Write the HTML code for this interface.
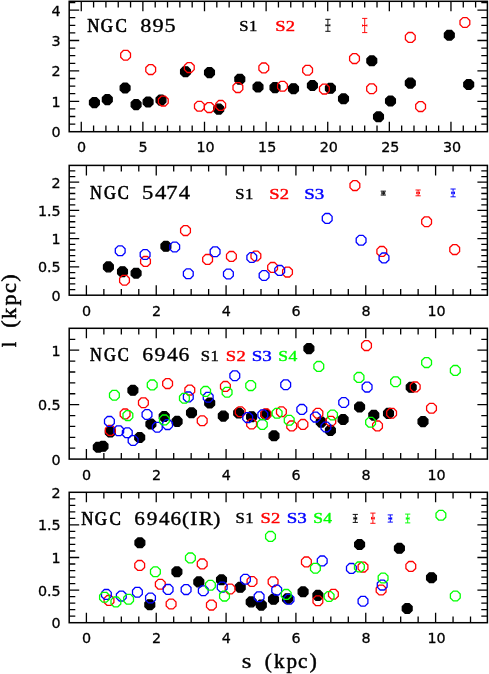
<!DOCTYPE html>
<html><head><meta charset="utf-8"><title>l vs s</title>
<style>
html,body{margin:0;padding:0;background:#fff}
svg{display:block}
.tl text{font-family:"DejaVu Sans","Liberation Sans",sans-serif;font-size:14.3px;fill:#000;stroke:#000;stroke-width:0.3px}
.ser{font-family:"Liberation Serif","Times New Roman",serif}
</style></head><body>
<svg width="489" height="674" viewBox="0 0 489 674">
<rect width="489" height="674" fill="#fff"/>
<path d="M93.59 131.70V125.60M93.59 1.30V7.40M105.92 131.70V125.60M105.92 1.30V7.40M118.24 131.70V125.60M118.24 1.30V7.40M130.56 131.70V125.60M130.56 1.30V7.40M155.21 131.70V125.60M155.21 1.30V7.40M167.53 131.70V125.60M167.53 1.30V7.40M179.85 131.70V125.60M179.85 1.30V7.40M192.18 131.70V125.60M192.18 1.30V7.40M216.82 131.70V125.60M216.82 1.30V7.40M229.15 131.70V125.60M229.15 1.30V7.40M241.47 131.70V125.60M241.47 1.30V7.40M253.79 131.70V125.60M253.79 1.30V7.40M278.44 131.70V125.60M278.44 1.30V7.40M290.76 131.70V125.60M290.76 1.30V7.40M303.08 131.70V125.60M303.08 1.30V7.40M315.41 131.70V125.60M315.41 1.30V7.40M340.05 131.70V125.60M340.05 1.30V7.40M352.38 131.70V125.60M352.38 1.30V7.40M364.70 131.70V125.60M364.70 1.30V7.40M377.02 131.70V125.60M377.02 1.30V7.40M401.67 131.70V125.60M401.67 1.30V7.40M413.99 131.70V125.60M413.99 1.30V7.40M426.31 131.70V125.60M426.31 1.30V7.40M438.64 131.70V125.60M438.64 1.30V7.40M463.28 131.70V125.60M463.28 1.30V7.40M475.61 131.70V125.60M475.61 1.30V7.40M69.20 124.10H75.30M487.40 124.10H481.30M69.20 116.50H75.30M487.40 116.50H481.30M69.20 108.90H75.30M487.40 108.90H481.30M69.20 93.70H75.30M487.40 93.70H481.30M69.20 86.10H75.30M487.40 86.10H481.30M69.20 78.50H75.30M487.40 78.50H481.30M69.20 63.30H75.30M487.40 63.30H481.30M69.20 55.70H75.30M487.40 55.70H481.30M69.20 48.10H75.30M487.40 48.10H481.30M69.20 32.90H75.30M487.40 32.90H481.30M69.20 25.30H75.30M487.40 25.30H481.30M69.20 17.70H75.30M487.40 17.70H481.30M69.20 2.50H75.30M487.40 2.50H481.30" stroke="#000" stroke-width="1.3" fill="none"/>
<path d="M81.27 131.70V121.70M81.27 1.30V11.30M142.88 131.70V121.70M142.88 1.30V11.30M204.50 131.70V121.70M204.50 1.30V11.30M266.12 131.70V121.70M266.12 1.30V11.30M327.73 131.70V121.70M327.73 1.30V11.30M389.34 131.70V121.70M389.34 1.30V11.30M450.96 131.70V121.70M450.96 1.30V11.30M69.20 101.30H79.20M487.40 101.30H477.40M69.20 70.90H79.20M487.40 70.90H477.40M69.20 40.50H79.20M487.40 40.50H477.40M69.20 10.10H79.20M487.40 10.10H477.40" stroke="#000" stroke-width="1.3" fill="none"/>
<rect x="69.2" y="1.3" width="418.20" height="130.40" fill="none" stroke="#000" stroke-width="1.5"/>
<g class="tl">
<text transform="translate(81.47,152.40) scale(1,1.03)" text-anchor="middle">0</text>
<text transform="translate(143.08,152.40) scale(1,1.03)" text-anchor="middle">5</text>
<text transform="translate(205.50,152.40) scale(1,1.03)" text-anchor="middle">10</text>
<text transform="translate(267.12,152.40) scale(1,1.03)" text-anchor="middle">15</text>
<text transform="translate(328.73,152.40) scale(1,1.03)" text-anchor="middle">20</text>
<text transform="translate(390.34,152.40) scale(1,1.03)" text-anchor="middle">25</text>
<text transform="translate(451.96,152.40) scale(1,1.03)" text-anchor="middle">30</text>
<text transform="translate(60.7,137.10) scale(1,1.03)" text-anchor="end">0</text>
<text transform="translate(60.7,106.70) scale(1,1.03)" text-anchor="end">1</text>
<text transform="translate(60.7,76.30) scale(1,1.03)" text-anchor="end">2</text>
<text transform="translate(60.7,45.90) scale(1,1.03)" text-anchor="end">3</text>
<text transform="translate(60.7,15.50) scale(1,1.03)" text-anchor="end">4</text>
</g>
<path d="M103.86 295.20V289.10M103.86 165.40V171.50M121.32 295.20V289.10M121.32 165.40V171.50M138.78 295.20V289.10M138.78 165.40V171.50M173.70 295.20V289.10M173.70 165.40V171.50M191.16 295.20V289.10M191.16 165.40V171.50M208.62 295.20V289.10M208.62 165.40V171.50M243.54 295.20V289.10M243.54 165.40V171.50M261.00 295.20V289.10M261.00 165.40V171.50M278.46 295.20V289.10M278.46 165.40V171.50M313.38 295.20V289.10M313.38 165.40V171.50M330.84 295.20V289.10M330.84 165.40V171.50M348.30 295.20V289.10M348.30 165.40V171.50M383.22 295.20V289.10M383.22 165.40V171.50M400.68 295.20V289.10M400.68 165.40V171.50M418.14 295.20V289.10M418.14 165.40V171.50M453.06 295.20V289.10M453.06 165.40V171.50M470.52 295.20V289.10M470.52 165.40V171.50M69.20 289.55H75.30M487.40 289.55H481.30M69.20 283.90H75.30M487.40 283.90H481.30M69.20 278.25H75.30M487.40 278.25H481.30M69.20 272.60H75.30M487.40 272.60H481.30M69.20 261.30H75.30M487.40 261.30H481.30M69.20 255.65H75.30M487.40 255.65H481.30M69.20 250.00H75.30M487.40 250.00H481.30M69.20 244.35H75.30M487.40 244.35H481.30M69.20 233.05H75.30M487.40 233.05H481.30M69.20 227.40H75.30M487.40 227.40H481.30M69.20 221.75H75.30M487.40 221.75H481.30M69.20 216.10H75.30M487.40 216.10H481.30M69.20 204.80H75.30M487.40 204.80H481.30M69.20 199.15H75.30M487.40 199.15H481.30M69.20 193.50H75.30M487.40 193.50H481.30M69.20 187.85H75.30M487.40 187.85H481.30M69.20 176.55H75.30M487.40 176.55H481.30M69.20 170.90H75.30M487.40 170.90H481.30" stroke="#000" stroke-width="1.3" fill="none"/>
<path d="M86.40 295.20V285.20M86.40 165.40V175.40M156.24 295.20V285.20M156.24 165.40V175.40M226.08 295.20V285.20M226.08 165.40V175.40M295.92 295.20V285.20M295.92 165.40V175.40M365.76 295.20V285.20M365.76 165.40V175.40M435.60 295.20V285.20M435.60 165.40V175.40M69.20 266.95H79.20M487.40 266.95H477.40M69.20 238.70H79.20M487.40 238.70H477.40M69.20 210.45H79.20M487.40 210.45H477.40M69.20 182.20H79.20M487.40 182.20H477.40" stroke="#000" stroke-width="1.3" fill="none"/>
<rect x="69.2" y="165.4" width="418.20" height="129.80" fill="none" stroke="#000" stroke-width="1.5"/>
<g class="tl">
<text transform="translate(86.60,315.90) scale(1,1.03)" text-anchor="middle">0</text>
<text transform="translate(156.44,315.90) scale(1,1.03)" text-anchor="middle">2</text>
<text transform="translate(226.28,315.90) scale(1,1.03)" text-anchor="middle">4</text>
<text transform="translate(296.12,315.90) scale(1,1.03)" text-anchor="middle">6</text>
<text transform="translate(365.96,315.90) scale(1,1.03)" text-anchor="middle">8</text>
<text transform="translate(436.60,315.90) scale(1,1.03)" text-anchor="middle">10</text>
<text transform="translate(60.7,300.60) scale(1,1.03)" text-anchor="end">0</text>
<text transform="translate(60.7,272.35) scale(1,1.03)" text-anchor="end">0.5</text>
<text transform="translate(60.7,244.10) scale(1,1.03)" text-anchor="end">1</text>
<text transform="translate(60.7,215.85) scale(1,1.03)" text-anchor="end">1.5</text>
<text transform="translate(60.7,187.60) scale(1,1.03)" text-anchor="end">2</text>
</g>
<path d="M103.86 459.10V453.00M103.86 328.30V334.40M121.32 459.10V453.00M121.32 328.30V334.40M138.78 459.10V453.00M138.78 328.30V334.40M173.70 459.10V453.00M173.70 328.30V334.40M191.16 459.10V453.00M191.16 328.30V334.40M208.62 459.10V453.00M208.62 328.30V334.40M243.54 459.10V453.00M243.54 328.30V334.40M261.00 459.10V453.00M261.00 328.30V334.40M278.46 459.10V453.00M278.46 328.30V334.40M313.38 459.10V453.00M313.38 328.30V334.40M330.84 459.10V453.00M330.84 328.30V334.40M348.30 459.10V453.00M348.30 328.30V334.40M383.22 459.10V453.00M383.22 328.30V334.40M400.68 459.10V453.00M400.68 328.30V334.40M418.14 459.10V453.00M418.14 328.30V334.40M453.06 459.10V453.00M453.06 328.30V334.40M470.52 459.10V453.00M470.52 328.30V334.40M69.20 448.21H75.30M487.40 448.21H481.30M69.20 437.32H75.30M487.40 437.32H481.30M69.20 426.43H75.30M487.40 426.43H481.30M69.20 415.54H75.30M487.40 415.54H481.30M69.20 393.76H75.30M487.40 393.76H481.30M69.20 382.87H75.30M487.40 382.87H481.30M69.20 371.98H75.30M487.40 371.98H481.30M69.20 361.09H75.30M487.40 361.09H481.30M69.20 339.31H75.30M487.40 339.31H481.30" stroke="#000" stroke-width="1.3" fill="none"/>
<path d="M86.40 459.10V449.10M86.40 328.30V338.30M156.24 459.10V449.10M156.24 328.30V338.30M226.08 459.10V449.10M226.08 328.30V338.30M295.92 459.10V449.10M295.92 328.30V338.30M365.76 459.10V449.10M365.76 328.30V338.30M435.60 459.10V449.10M435.60 328.30V338.30M69.20 404.65H79.20M487.40 404.65H477.40M69.20 350.20H79.20M487.40 350.20H477.40" stroke="#000" stroke-width="1.3" fill="none"/>
<rect x="69.2" y="328.3" width="418.20" height="130.80" fill="none" stroke="#000" stroke-width="1.5"/>
<g class="tl">
<text transform="translate(86.60,479.80) scale(1,1.03)" text-anchor="middle">0</text>
<text transform="translate(156.44,479.80) scale(1,1.03)" text-anchor="middle">2</text>
<text transform="translate(226.28,479.80) scale(1,1.03)" text-anchor="middle">4</text>
<text transform="translate(296.12,479.80) scale(1,1.03)" text-anchor="middle">6</text>
<text transform="translate(365.96,479.80) scale(1,1.03)" text-anchor="middle">8</text>
<text transform="translate(436.60,479.80) scale(1,1.03)" text-anchor="middle">10</text>
<text transform="translate(60.7,464.50) scale(1,1.03)" text-anchor="end">0</text>
<text transform="translate(60.7,410.05) scale(1,1.03)" text-anchor="end">0.5</text>
<text transform="translate(60.7,355.60) scale(1,1.03)" text-anchor="end">1</text>
</g>
<path d="M103.86 622.70V616.60M103.86 492.30V498.40M121.32 622.70V616.60M121.32 492.30V498.40M138.78 622.70V616.60M138.78 492.30V498.40M173.70 622.70V616.60M173.70 492.30V498.40M191.16 622.70V616.60M191.16 492.30V498.40M208.62 622.70V616.60M208.62 492.30V498.40M243.54 622.70V616.60M243.54 492.30V498.40M261.00 622.70V616.60M261.00 492.30V498.40M278.46 622.70V616.60M278.46 492.30V498.40M313.38 622.70V616.60M313.38 492.30V498.40M330.84 622.70V616.60M330.84 492.30V498.40M348.30 622.70V616.60M348.30 492.30V498.40M383.22 622.70V616.60M383.22 492.30V498.40M400.68 622.70V616.60M400.68 492.30V498.40M418.14 622.70V616.60M418.14 492.30V498.40M453.06 622.70V616.60M453.06 492.30V498.40M470.52 622.70V616.60M470.52 492.30V498.40M69.20 616.18H75.30M487.40 616.18H481.30M69.20 609.66H75.30M487.40 609.66H481.30M69.20 603.14H75.30M487.40 603.14H481.30M69.20 596.62H75.30M487.40 596.62H481.30M69.20 583.58H75.30M487.40 583.58H481.30M69.20 577.06H75.30M487.40 577.06H481.30M69.20 570.54H75.30M487.40 570.54H481.30M69.20 564.02H75.30M487.40 564.02H481.30M69.20 550.98H75.30M487.40 550.98H481.30M69.20 544.46H75.30M487.40 544.46H481.30M69.20 537.94H75.30M487.40 537.94H481.30M69.20 531.42H75.30M487.40 531.42H481.30M69.20 518.38H75.30M487.40 518.38H481.30M69.20 511.86H75.30M487.40 511.86H481.30M69.20 505.34H75.30M487.40 505.34H481.30M69.20 498.82H75.30M487.40 498.82H481.30" stroke="#000" stroke-width="1.3" fill="none"/>
<path d="M86.40 622.70V612.70M86.40 492.30V502.30M156.24 622.70V612.70M156.24 492.30V502.30M226.08 622.70V612.70M226.08 492.30V502.30M295.92 622.70V612.70M295.92 492.30V502.30M365.76 622.70V612.70M365.76 492.30V502.30M435.60 622.70V612.70M435.60 492.30V502.30M69.20 590.10H79.20M487.40 590.10H477.40M69.20 557.50H79.20M487.40 557.50H477.40M69.20 524.90H79.20M487.40 524.90H477.40" stroke="#000" stroke-width="1.3" fill="none"/>
<rect x="69.2" y="492.3" width="418.20" height="130.40" fill="none" stroke="#000" stroke-width="1.5"/>
<g class="tl">
<text transform="translate(86.60,643.40) scale(1,1.03)" text-anchor="middle">0</text>
<text transform="translate(156.44,643.40) scale(1,1.03)" text-anchor="middle">2</text>
<text transform="translate(226.28,643.40) scale(1,1.03)" text-anchor="middle">4</text>
<text transform="translate(296.12,643.40) scale(1,1.03)" text-anchor="middle">6</text>
<text transform="translate(365.96,643.40) scale(1,1.03)" text-anchor="middle">8</text>
<text transform="translate(436.60,643.40) scale(1,1.03)" text-anchor="middle">10</text>
<text transform="translate(60.7,628.10) scale(1,1.03)" text-anchor="end">0</text>
<text transform="translate(60.7,595.50) scale(1,1.03)" text-anchor="end">0.5</text>
<text transform="translate(60.7,562.90) scale(1,1.03)" text-anchor="end">1</text>
<text transform="translate(60.7,530.30) scale(1,1.03)" text-anchor="end">1.5</text>
<text transform="translate(60.7,497.70) scale(1,1.03)" text-anchor="end">2</text>
</g>
<polygon points="99.30,104.63 96.43,107.50 92.37,107.50 89.50,104.63 89.50,100.57 92.37,97.70 96.43,97.70 99.30,100.57" fill="#000" stroke="#000" stroke-width="1.3" stroke-linejoin="round"/>
<polygon points="112.20,101.63 109.33,104.50 105.27,104.50 102.40,101.63 102.40,97.57 105.27,94.70 109.33,94.70 112.20,97.57" fill="#000" stroke="#000" stroke-width="1.3" stroke-linejoin="round"/>
<polygon points="130.00,90.03 127.13,92.90 123.07,92.90 120.20,90.03 120.20,85.97 123.07,83.10 127.13,83.10 130.00,85.97" fill="#000" stroke="#000" stroke-width="1.3" stroke-linejoin="round"/>
<polygon points="141.00,106.63 138.13,109.50 134.07,109.50 131.20,106.63 131.20,102.57 134.07,99.70 138.13,99.70 141.00,102.57" fill="#000" stroke="#000" stroke-width="1.3" stroke-linejoin="round"/>
<polygon points="153.00,104.03 150.13,106.90 146.07,106.90 143.20,104.03 143.20,99.97 146.07,97.10 150.13,97.10 153.00,99.97" fill="#000" stroke="#000" stroke-width="1.3" stroke-linejoin="round"/>
<polygon points="165.90,102.13 163.03,105.00 158.97,105.00 156.10,102.13 156.10,98.07 158.97,95.20 163.03,95.20 165.90,98.07" fill="#000" stroke="#000" stroke-width="1.3" stroke-linejoin="round"/>
<polygon points="190.40,73.73 187.53,76.60 183.47,76.60 180.60,73.73 180.60,69.67 183.47,66.80 187.53,66.80 190.40,69.67" fill="#000" stroke="#000" stroke-width="1.3" stroke-linejoin="round"/>
<polygon points="214.40,74.63 211.53,77.50 207.47,77.50 204.60,74.63 204.60,70.57 207.47,67.70 211.53,67.70 214.40,70.57" fill="#000" stroke="#000" stroke-width="1.3" stroke-linejoin="round"/>
<polygon points="223.60,111.13 220.73,114.00 216.67,114.00 213.80,111.13 213.80,107.07 216.67,104.20 220.73,104.20 223.60,107.07" fill="#000" stroke="#000" stroke-width="1.3" stroke-linejoin="round"/>
<polygon points="244.70,81.23 241.83,84.10 237.77,84.10 234.90,81.23 234.90,77.17 237.77,74.30 241.83,74.30 244.70,77.17" fill="#000" stroke="#000" stroke-width="1.3" stroke-linejoin="round"/>
<polygon points="262.90,89.03 260.03,91.90 255.97,91.90 253.10,89.03 253.10,84.97 255.97,82.10 260.03,82.10 262.90,84.97" fill="#000" stroke="#000" stroke-width="1.3" stroke-linejoin="round"/>
<polygon points="279.90,89.63 277.03,92.50 272.97,92.50 270.10,89.63 270.10,85.57 272.97,82.70 277.03,82.70 279.90,85.57" fill="#000" stroke="#000" stroke-width="1.3" stroke-linejoin="round"/>
<polygon points="298.40,90.73 295.53,93.60 291.47,93.60 288.60,90.73 288.60,86.67 291.47,83.80 295.53,83.80 298.40,86.67" fill="#000" stroke="#000" stroke-width="1.3" stroke-linejoin="round"/>
<polygon points="317.30,87.53 314.43,90.40 310.37,90.40 307.50,87.53 307.50,83.47 310.37,80.60 314.43,80.60 317.30,83.47" fill="#000" stroke="#000" stroke-width="1.3" stroke-linejoin="round"/>
<polygon points="335.30,90.33 332.43,93.20 328.37,93.20 325.50,90.33 325.50,86.27 328.37,83.40 332.43,83.40 335.30,86.27" fill="#000" stroke="#000" stroke-width="1.3" stroke-linejoin="round"/>
<polygon points="348.40,100.83 345.53,103.70 341.47,103.70 338.60,100.83 338.60,96.77 341.47,93.90 345.53,93.90 348.40,96.77" fill="#000" stroke="#000" stroke-width="1.3" stroke-linejoin="round"/>
<polygon points="376.70,62.83 373.83,65.70 369.77,65.70 366.90,62.83 366.90,58.77 369.77,55.90 373.83,55.90 376.70,58.77" fill="#000" stroke="#000" stroke-width="1.3" stroke-linejoin="round"/>
<polygon points="383.40,118.83 380.53,121.70 376.47,121.70 373.60,118.83 373.60,114.77 376.47,111.90 380.53,111.90 383.40,114.77" fill="#000" stroke="#000" stroke-width="1.3" stroke-linejoin="round"/>
<polygon points="395.40,103.03 392.53,105.90 388.47,105.90 385.60,103.03 385.60,98.97 388.47,96.10 392.53,96.10 395.40,98.97" fill="#000" stroke="#000" stroke-width="1.3" stroke-linejoin="round"/>
<polygon points="415.20,85.13 412.33,88.00 408.27,88.00 405.40,85.13 405.40,81.07 408.27,78.20 412.33,78.20 415.20,81.07" fill="#000" stroke="#000" stroke-width="1.3" stroke-linejoin="round"/>
<polygon points="454.20,37.23 451.33,40.10 447.27,40.10 444.40,37.23 444.40,33.17 447.27,30.30 451.33,30.30 454.20,33.17" fill="#000" stroke="#000" stroke-width="1.3" stroke-linejoin="round"/>
<polygon points="473.60,86.53 470.73,89.40 466.67,89.40 463.80,86.53 463.80,82.47 466.67,79.60 470.73,79.60 473.60,82.47" fill="#000" stroke="#000" stroke-width="1.3" stroke-linejoin="round"/>
<polygon points="130.50,57.23 127.63,60.10 123.57,60.10 120.70,57.23 120.70,53.17 123.57,50.30 127.63,50.30 130.50,53.17" fill="none" stroke="#f00" stroke-width="1.3" stroke-linejoin="round"/>
<polygon points="155.60,71.63 152.73,74.50 148.67,74.50 145.80,71.63 145.80,67.57 148.67,64.70 152.73,64.70 155.60,67.57" fill="none" stroke="#f00" stroke-width="1.3" stroke-linejoin="round"/>
<polygon points="168.20,103.13 165.33,106.00 161.27,106.00 158.40,103.13 158.40,99.07 161.27,96.20 165.33,96.20 168.20,99.07" fill="none" stroke="#f00" stroke-width="1.3" stroke-linejoin="round"/>
<polygon points="194.20,69.63 191.33,72.50 187.27,72.50 184.40,69.63 184.40,65.57 187.27,62.70 191.33,62.70 194.20,65.57" fill="none" stroke="#f00" stroke-width="1.3" stroke-linejoin="round"/>
<polygon points="204.30,108.33 201.43,111.20 197.37,111.20 194.50,108.33 194.50,104.27 197.37,101.40 201.43,101.40 204.30,104.27" fill="none" stroke="#f00" stroke-width="1.3" stroke-linejoin="round"/>
<polygon points="214.20,109.63 211.33,112.50 207.27,112.50 204.40,109.63 204.40,105.57 207.27,102.70 211.33,102.70 214.20,105.57" fill="none" stroke="#f00" stroke-width="1.3" stroke-linejoin="round"/>
<polygon points="225.60,107.43 222.73,110.30 218.67,110.30 215.80,107.43 215.80,103.37 218.67,100.50 222.73,100.50 225.60,103.37" fill="none" stroke="#f00" stroke-width="1.3" stroke-linejoin="round"/>
<polygon points="242.80,89.63 239.93,92.50 235.87,92.50 233.00,89.63 233.00,85.57 235.87,82.70 239.93,82.70 242.80,85.57" fill="none" stroke="#f00" stroke-width="1.3" stroke-linejoin="round"/>
<polygon points="268.70,69.93 265.83,72.80 261.77,72.80 258.90,69.93 258.90,65.87 261.77,63.00 265.83,63.00 268.70,65.87" fill="none" stroke="#f00" stroke-width="1.3" stroke-linejoin="round"/>
<polygon points="287.40,88.33 284.53,91.20 280.47,91.20 277.60,88.33 277.60,84.27 280.47,81.40 284.53,81.40 287.40,84.27" fill="none" stroke="#f00" stroke-width="1.3" stroke-linejoin="round"/>
<polygon points="312.50,72.23 309.63,75.10 305.57,75.10 302.70,72.23 302.70,68.17 305.57,65.30 309.63,65.30 312.50,68.17" fill="none" stroke="#f00" stroke-width="1.3" stroke-linejoin="round"/>
<polygon points="329.30,91.13 326.43,94.00 322.37,94.00 319.50,91.13 319.50,87.07 322.37,84.20 326.43,84.20 329.30,87.07" fill="none" stroke="#f00" stroke-width="1.3" stroke-linejoin="round"/>
<polygon points="359.40,60.63 356.53,63.50 352.47,63.50 349.60,60.63 349.60,56.57 352.47,53.70 356.53,53.70 359.40,56.57" fill="none" stroke="#f00" stroke-width="1.3" stroke-linejoin="round"/>
<polygon points="376.50,90.73 373.63,93.60 369.57,93.60 366.70,90.73 366.70,86.67 369.57,83.80 373.63,83.80 376.50,86.67" fill="none" stroke="#f00" stroke-width="1.3" stroke-linejoin="round"/>
<polygon points="415.20,39.43 412.33,42.30 408.27,42.30 405.40,39.43 405.40,35.37 408.27,32.50 412.33,32.50 415.20,35.37" fill="none" stroke="#f00" stroke-width="1.3" stroke-linejoin="round"/>
<polygon points="425.50,108.63 422.63,111.50 418.57,111.50 415.70,108.63 415.70,104.57 418.57,101.70 422.63,101.70 425.50,104.57" fill="none" stroke="#f00" stroke-width="1.3" stroke-linejoin="round"/>
<polygon points="469.80,24.53 466.93,27.40 462.87,27.40 460.00,24.53 460.00,20.47 462.87,17.60 466.93,17.60 469.80,20.47" fill="none" stroke="#f00" stroke-width="1.3" stroke-linejoin="round"/>
<polygon points="113.30,268.93 110.43,271.80 106.37,271.80 103.50,268.93 103.50,264.87 106.37,262.00 110.43,262.00 113.30,264.87" fill="#000" stroke="#000" stroke-width="1.3" stroke-linejoin="round"/>
<polygon points="127.40,273.73 124.53,276.60 120.47,276.60 117.60,273.73 117.60,269.67 120.47,266.80 124.53,266.80 127.40,269.67" fill="#000" stroke="#000" stroke-width="1.3" stroke-linejoin="round"/>
<polygon points="141.00,275.23 138.13,278.10 134.07,278.10 131.20,275.23 131.20,271.17 134.07,268.30 138.13,268.30 141.00,271.17" fill="#000" stroke="#000" stroke-width="1.3" stroke-linejoin="round"/>
<polygon points="170.80,248.33 167.93,251.20 163.87,251.20 161.00,248.33 161.00,244.27 163.87,241.40 167.93,241.40 170.80,244.27" fill="#000" stroke="#000" stroke-width="1.3" stroke-linejoin="round"/>
<polygon points="129.40,282.23 126.53,285.10 122.47,285.10 119.60,282.23 119.60,278.17 122.47,275.30 126.53,275.30 129.40,278.17" fill="none" stroke="#f00" stroke-width="1.3" stroke-linejoin="round"/>
<polygon points="150.40,263.43 147.53,266.30 143.47,266.30 140.60,263.43 140.60,259.37 143.47,256.50 147.53,256.50 150.40,259.37" fill="none" stroke="#f00" stroke-width="1.3" stroke-linejoin="round"/>
<polygon points="190.40,232.63 187.53,235.50 183.47,235.50 180.60,232.63 180.60,228.57 183.47,225.70 187.53,225.70 190.40,228.57" fill="none" stroke="#f00" stroke-width="1.3" stroke-linejoin="round"/>
<polygon points="212.50,261.43 209.63,264.30 205.57,264.30 202.70,261.43 202.70,257.37 205.57,254.50 209.63,254.50 212.50,257.37" fill="none" stroke="#f00" stroke-width="1.3" stroke-linejoin="round"/>
<polygon points="236.30,258.43 233.43,261.30 229.37,261.30 226.50,258.43 226.50,254.37 229.37,251.50 233.43,251.50 236.30,254.37" fill="none" stroke="#f00" stroke-width="1.3" stroke-linejoin="round"/>
<polygon points="260.80,258.03 257.93,260.90 253.87,260.90 251.00,258.03 251.00,253.97 253.87,251.10 257.93,251.10 260.80,253.97" fill="none" stroke="#f00" stroke-width="1.3" stroke-linejoin="round"/>
<polygon points="277.50,269.43 274.63,272.30 270.57,272.30 267.70,269.43 267.70,265.37 270.57,262.50 274.63,262.50 277.50,265.37" fill="none" stroke="#f00" stroke-width="1.3" stroke-linejoin="round"/>
<polygon points="292.40,274.13 289.53,277.00 285.47,277.00 282.60,274.13 282.60,270.07 285.47,267.20 289.53,267.20 292.40,270.07" fill="none" stroke="#f00" stroke-width="1.3" stroke-linejoin="round"/>
<polygon points="359.80,187.63 356.93,190.50 352.87,190.50 350.00,187.63 350.00,183.57 352.87,180.70 356.93,180.70 359.80,183.57" fill="none" stroke="#f00" stroke-width="1.3" stroke-linejoin="round"/>
<polygon points="386.70,253.43 383.83,256.30 379.77,256.30 376.90,253.43 376.90,249.37 379.77,246.50 383.83,246.50 386.70,249.37" fill="none" stroke="#f00" stroke-width="1.3" stroke-linejoin="round"/>
<polygon points="431.50,223.73 428.63,226.60 424.57,226.60 421.70,223.73 421.70,219.67 424.57,216.80 428.63,216.80 431.50,219.67" fill="none" stroke="#f00" stroke-width="1.3" stroke-linejoin="round"/>
<polygon points="459.60,251.63 456.73,254.50 452.67,254.50 449.80,251.63 449.80,247.57 452.67,244.70 456.73,244.70 459.60,247.57" fill="none" stroke="#f00" stroke-width="1.3" stroke-linejoin="round"/>
<polygon points="125.10,252.83 122.23,255.70 118.17,255.70 115.30,252.83 115.30,248.77 118.17,245.90 122.23,245.90 125.10,248.77" fill="none" stroke="#00f" stroke-width="1.3" stroke-linejoin="round"/>
<polygon points="150.00,256.53 147.13,259.40 143.07,259.40 140.20,256.53 140.20,252.47 143.07,249.60 147.13,249.60 150.00,252.47" fill="none" stroke="#00f" stroke-width="1.3" stroke-linejoin="round"/>
<polygon points="179.60,249.03 176.73,251.90 172.67,251.90 169.80,249.03 169.80,244.97 172.67,242.10 176.73,242.10 179.60,244.97" fill="none" stroke="#00f" stroke-width="1.3" stroke-linejoin="round"/>
<polygon points="193.20,275.83 190.33,278.70 186.27,278.70 183.40,275.83 183.40,271.77 186.27,268.90 190.33,268.90 193.20,271.77" fill="none" stroke="#00f" stroke-width="1.3" stroke-linejoin="round"/>
<polygon points="220.00,253.73 217.13,256.60 213.07,256.60 210.20,253.73 210.20,249.67 213.07,246.80 217.13,246.80 220.00,249.67" fill="none" stroke="#00f" stroke-width="1.3" stroke-linejoin="round"/>
<polygon points="233.30,276.03 230.43,278.90 226.37,278.90 223.50,276.03 223.50,271.97 226.37,269.10 230.43,269.10 233.30,271.97" fill="none" stroke="#00f" stroke-width="1.3" stroke-linejoin="round"/>
<polygon points="256.70,259.53 253.83,262.40 249.77,262.40 246.90,259.53 246.90,255.47 249.77,252.60 253.83,252.60 256.70,255.47" fill="none" stroke="#00f" stroke-width="1.3" stroke-linejoin="round"/>
<polygon points="269.00,277.53 266.13,280.40 262.07,280.40 259.20,277.53 259.20,273.47 262.07,270.60 266.13,270.60 269.00,273.47" fill="none" stroke="#00f" stroke-width="1.3" stroke-linejoin="round"/>
<polygon points="284.60,272.43 281.73,275.30 277.67,275.30 274.80,272.43 274.80,268.37 277.67,265.50 281.73,265.50 284.60,268.37" fill="none" stroke="#00f" stroke-width="1.3" stroke-linejoin="round"/>
<polygon points="332.10,220.43 329.23,223.30 325.17,223.30 322.30,220.43 322.30,216.37 325.17,213.50 329.23,213.50 332.10,216.37" fill="none" stroke="#00f" stroke-width="1.3" stroke-linejoin="round"/>
<polygon points="366.00,242.33 363.13,245.20 359.07,245.20 356.20,242.33 356.20,238.27 359.07,235.40 363.13,235.40 366.00,238.27" fill="none" stroke="#00f" stroke-width="1.3" stroke-linejoin="round"/>
<polygon points="388.90,259.93 386.03,262.80 381.97,262.80 379.10,259.93 379.10,255.87 381.97,253.00 386.03,253.00 388.90,255.87" fill="none" stroke="#00f" stroke-width="1.3" stroke-linejoin="round"/>
<polygon points="103.20,449.23 100.33,452.10 96.27,452.10 93.40,449.23 93.40,445.17 96.27,442.30 100.33,442.30 103.20,445.17" fill="#000" stroke="#000" stroke-width="1.3" stroke-linejoin="round"/>
<polygon points="107.90,448.33 105.03,451.20 100.97,451.20 98.10,448.33 98.10,444.27 100.97,441.40 105.03,441.40 107.90,444.27" fill="#000" stroke="#000" stroke-width="1.3" stroke-linejoin="round"/>
<polygon points="115.20,433.93 112.33,436.80 108.27,436.80 105.40,433.93 105.40,429.87 108.27,427.00 112.33,427.00 115.20,429.87" fill="#000" stroke="#000" stroke-width="1.3" stroke-linejoin="round"/>
<polygon points="137.80,392.33 134.93,395.20 130.87,395.20 128.00,392.33 128.00,388.27 130.87,385.40 134.93,385.40 137.80,388.27" fill="#000" stroke="#000" stroke-width="1.3" stroke-linejoin="round"/>
<polygon points="144.60,439.53 141.73,442.40 137.67,442.40 134.80,439.53 134.80,435.47 137.67,432.60 141.73,432.60 144.60,435.47" fill="#000" stroke="#000" stroke-width="1.3" stroke-linejoin="round"/>
<polygon points="155.80,426.03 152.93,428.90 148.87,428.90 146.00,426.03 146.00,421.97 148.87,419.10 152.93,419.10 155.80,421.97" fill="#000" stroke="#000" stroke-width="1.3" stroke-linejoin="round"/>
<polygon points="169.10,418.53 166.23,421.40 162.17,421.40 159.30,418.53 159.30,414.47 162.17,411.60 166.23,411.60 169.10,414.47" fill="#000" stroke="#000" stroke-width="1.3" stroke-linejoin="round"/>
<polygon points="182.00,423.43 179.13,426.30 175.07,426.30 172.20,423.43 172.20,419.37 175.07,416.50 179.13,416.50 182.00,419.37" fill="#000" stroke="#000" stroke-width="1.3" stroke-linejoin="round"/>
<polygon points="196.40,414.83 193.53,417.70 189.47,417.70 186.60,414.83 186.60,410.77 189.47,407.90 193.53,407.90 196.40,410.77" fill="#000" stroke="#000" stroke-width="1.3" stroke-linejoin="round"/>
<polygon points="214.60,405.03 211.73,407.90 207.67,407.90 204.80,405.03 204.80,400.97 207.67,398.10 211.73,398.10 214.60,400.97" fill="#000" stroke="#000" stroke-width="1.3" stroke-linejoin="round"/>
<polygon points="228.20,418.13 225.33,421.00 221.27,421.00 218.40,418.13 218.40,414.07 221.27,411.20 225.33,411.20 228.20,414.07" fill="#000" stroke="#000" stroke-width="1.3" stroke-linejoin="round"/>
<polygon points="243.60,415.03 240.73,417.90 236.67,417.90 233.80,415.03 233.80,410.97 236.67,408.10 240.73,408.10 243.60,410.97" fill="#000" stroke="#000" stroke-width="1.3" stroke-linejoin="round"/>
<polygon points="256.50,418.73 253.63,421.60 249.57,421.60 246.70,418.73 246.70,414.67 249.57,411.80 253.63,411.80 256.50,414.67" fill="#000" stroke="#000" stroke-width="1.3" stroke-linejoin="round"/>
<polygon points="270.70,416.33 267.83,419.20 263.77,419.20 260.90,416.33 260.90,412.27 263.77,409.40 267.83,409.40 270.70,412.27" fill="#000" stroke="#000" stroke-width="1.3" stroke-linejoin="round"/>
<polygon points="278.90,437.83 276.03,440.70 271.97,440.70 269.10,437.83 269.10,433.77 271.97,430.90 276.03,430.90 278.90,433.77" fill="#000" stroke="#000" stroke-width="1.3" stroke-linejoin="round"/>
<polygon points="313.80,350.63 310.93,353.50 306.87,353.50 304.00,350.63 304.00,346.57 306.87,343.70 310.93,343.70 313.80,346.57" fill="#000" stroke="#000" stroke-width="1.3" stroke-linejoin="round"/>
<polygon points="326.10,424.13 323.23,427.00 319.17,427.00 316.30,424.13 316.30,420.07 319.17,417.20 323.23,417.20 326.10,420.07" fill="#000" stroke="#000" stroke-width="1.3" stroke-linejoin="round"/>
<polygon points="335.30,432.43 332.43,435.30 328.37,435.30 325.50,432.43 325.50,428.37 328.37,425.50 332.43,425.50 335.30,428.37" fill="#000" stroke="#000" stroke-width="1.3" stroke-linejoin="round"/>
<polygon points="348.00,421.53 345.13,424.40 341.07,424.40 338.20,421.53 338.20,417.47 341.07,414.60 345.13,414.60 348.00,417.47" fill="#000" stroke="#000" stroke-width="1.3" stroke-linejoin="round"/>
<polygon points="364.50,409.03 361.63,411.90 357.57,411.90 354.70,409.03 354.70,404.97 357.57,402.10 361.63,402.10 364.50,404.97" fill="#000" stroke="#000" stroke-width="1.3" stroke-linejoin="round"/>
<polygon points="378.70,417.23 375.83,420.10 371.77,420.10 368.90,417.23 368.90,413.17 371.77,410.30 375.83,410.30 378.70,413.17" fill="#000" stroke="#000" stroke-width="1.3" stroke-linejoin="round"/>
<polygon points="393.40,415.43 390.53,418.30 386.47,418.30 383.60,415.43 383.60,411.37 386.47,408.50 390.53,408.50 393.40,411.37" fill="#000" stroke="#000" stroke-width="1.3" stroke-linejoin="round"/>
<polygon points="416.10,389.33 413.23,392.20 409.17,392.20 406.30,389.33 406.30,385.27 409.17,382.40 413.23,382.40 416.10,385.27" fill="#000" stroke="#000" stroke-width="1.3" stroke-linejoin="round"/>
<polygon points="427.90,423.63 425.03,426.50 420.97,426.50 418.10,423.63 418.10,419.57 420.97,416.70 425.03,416.70 427.90,419.57" fill="#000" stroke="#000" stroke-width="1.3" stroke-linejoin="round"/>
<polygon points="115.20,432.43 112.33,435.30 108.27,435.30 105.40,432.43 105.40,428.37 108.27,425.50 112.33,425.50 115.20,428.37" fill="none" stroke="#f00" stroke-width="1.3" stroke-linejoin="round"/>
<polygon points="130.00,415.93 127.13,418.80 123.07,418.80 120.20,415.93 120.20,411.87 123.07,409.00 127.13,409.00 130.00,411.87" fill="none" stroke="#f00" stroke-width="1.3" stroke-linejoin="round"/>
<polygon points="148.30,404.73 145.43,407.60 141.37,407.60 138.50,404.73 138.50,400.67 141.37,397.80 145.43,397.80 148.30,400.67" fill="none" stroke="#f00" stroke-width="1.3" stroke-linejoin="round"/>
<polygon points="172.50,385.63 169.63,388.50 165.57,388.50 162.70,385.63 162.70,381.57 165.57,378.70 169.63,378.70 172.50,381.57" fill="none" stroke="#f00" stroke-width="1.3" stroke-linejoin="round"/>
<polygon points="194.70,392.13 191.83,395.00 187.77,395.00 184.90,392.13 184.90,388.07 187.77,385.20 191.83,385.20 194.70,388.07" fill="none" stroke="#f00" stroke-width="1.3" stroke-linejoin="round"/>
<polygon points="207.10,422.83 204.23,425.70 200.17,425.70 197.30,422.83 197.30,418.77 200.17,415.90 204.23,415.90 207.10,418.77" fill="none" stroke="#f00" stroke-width="1.3" stroke-linejoin="round"/>
<polygon points="230.30,388.43 227.43,391.30 223.37,391.30 220.50,388.43 220.50,384.37 223.37,381.50 227.43,381.50 230.30,384.37" fill="none" stroke="#f00" stroke-width="1.3" stroke-linejoin="round"/>
<polygon points="245.10,413.83 242.23,416.70 238.17,416.70 235.30,413.83 235.30,409.77 238.17,406.90 242.23,406.90 245.10,409.77" fill="none" stroke="#f00" stroke-width="1.3" stroke-linejoin="round"/>
<polygon points="256.50,426.03 253.63,428.90 249.57,428.90 246.70,426.03 246.70,421.97 249.57,419.10 253.63,419.10 256.50,421.97" fill="none" stroke="#f00" stroke-width="1.3" stroke-linejoin="round"/>
<polygon points="270.90,415.93 268.03,418.80 263.97,418.80 261.10,415.93 261.10,411.87 263.97,409.00 268.03,409.00 270.90,411.87" fill="none" stroke="#f00" stroke-width="1.3" stroke-linejoin="round"/>
<polygon points="286.30,413.83 283.43,416.70 279.37,416.70 276.50,413.83 276.50,409.77 279.37,406.90 283.43,406.90 286.30,409.77" fill="none" stroke="#f00" stroke-width="1.3" stroke-linejoin="round"/>
<polygon points="296.60,427.93 293.73,430.80 289.67,430.80 286.80,427.93 286.80,423.87 289.67,421.00 293.73,421.00 296.60,423.87" fill="none" stroke="#f00" stroke-width="1.3" stroke-linejoin="round"/>
<polygon points="307.80,426.43 304.93,429.30 300.87,429.30 298.00,426.43 298.00,422.37 300.87,419.50 304.93,419.50 307.80,422.37" fill="none" stroke="#f00" stroke-width="1.3" stroke-linejoin="round"/>
<polygon points="322.80,415.33 319.93,418.20 315.87,418.20 313.00,415.33 313.00,411.27 315.87,408.40 319.93,408.40 322.80,411.27" fill="none" stroke="#f00" stroke-width="1.3" stroke-linejoin="round"/>
<polygon points="335.70,423.23 332.83,426.10 328.77,426.10 325.90,423.23 325.90,419.17 328.77,416.30 332.83,416.30 335.70,419.17" fill="none" stroke="#f00" stroke-width="1.3" stroke-linejoin="round"/>
<polygon points="371.40,347.63 368.53,350.50 364.47,350.50 361.60,347.63 361.60,343.57 364.47,340.70 368.53,340.70 371.40,343.57" fill="none" stroke="#f00" stroke-width="1.3" stroke-linejoin="round"/>
<polygon points="382.40,427.93 379.53,430.80 375.47,430.80 372.60,427.93 372.60,423.87 375.47,421.00 379.53,421.00 382.40,423.87" fill="none" stroke="#f00" stroke-width="1.3" stroke-linejoin="round"/>
<polygon points="396.50,415.23 393.63,418.10 389.57,418.10 386.70,415.23 386.70,411.17 389.57,408.30 393.63,408.30 396.50,411.17" fill="none" stroke="#f00" stroke-width="1.3" stroke-linejoin="round"/>
<polygon points="420.10,388.93 417.23,391.80 413.17,391.80 410.30,388.93 410.30,384.87 413.17,382.00 417.23,382.00 420.10,384.87" fill="none" stroke="#f00" stroke-width="1.3" stroke-linejoin="round"/>
<polygon points="436.40,410.33 433.53,413.20 429.47,413.20 426.60,410.33 426.60,406.27 429.47,403.40 433.53,403.40 436.40,406.27" fill="none" stroke="#f00" stroke-width="1.3" stroke-linejoin="round"/>
<polygon points="114.30,423.43 111.43,426.30 107.37,426.30 104.50,423.43 104.50,419.37 107.37,416.50 111.43,416.50 114.30,419.37" fill="none" stroke="#00f" stroke-width="1.3" stroke-linejoin="round"/>
<polygon points="123.60,432.73 120.73,435.60 116.67,435.60 113.80,432.73 113.80,428.67 116.67,425.80 120.73,425.80 123.60,428.67" fill="none" stroke="#00f" stroke-width="1.3" stroke-linejoin="round"/>
<polygon points="132.20,434.83 129.33,437.70 125.27,437.70 122.40,434.83 122.40,430.77 125.27,427.90 129.33,427.90 132.20,430.77" fill="none" stroke="#00f" stroke-width="1.3" stroke-linejoin="round"/>
<polygon points="138.00,442.53 135.13,445.40 131.07,445.40 128.20,442.53 128.20,438.47 131.07,435.60 135.13,435.60 138.00,438.47" fill="none" stroke="#00f" stroke-width="1.3" stroke-linejoin="round"/>
<polygon points="151.90,416.53 149.03,419.40 144.97,419.40 142.10,416.53 142.10,412.47 144.97,409.60 149.03,409.60 151.90,412.47" fill="none" stroke="#00f" stroke-width="1.3" stroke-linejoin="round"/>
<polygon points="162.20,429.23 159.33,432.10 155.27,432.10 152.40,429.23 152.40,425.17 155.27,422.30 159.33,422.30 162.20,425.17" fill="none" stroke="#00f" stroke-width="1.3" stroke-linejoin="round"/>
<polygon points="172.50,426.63 169.63,429.50 165.57,429.50 162.70,426.63 162.70,422.57 165.57,419.70 169.63,419.70 172.50,422.57" fill="none" stroke="#00f" stroke-width="1.3" stroke-linejoin="round"/>
<polygon points="193.20,398.93 190.33,401.80 186.27,401.80 183.40,398.93 183.40,394.87 186.27,392.00 190.33,392.00 193.20,394.87" fill="none" stroke="#00f" stroke-width="1.3" stroke-linejoin="round"/>
<polygon points="213.10,399.23 210.23,402.10 206.17,402.10 203.30,399.23 203.30,395.17 206.17,392.30 210.23,392.30 213.10,395.17" fill="none" stroke="#00f" stroke-width="1.3" stroke-linejoin="round"/>
<polygon points="239.70,377.73 236.83,380.60 232.77,380.60 229.90,377.73 229.90,373.67 232.77,370.80 236.83,370.80 239.70,373.67" fill="none" stroke="#00f" stroke-width="1.3" stroke-linejoin="round"/>
<polygon points="252.60,419.63 249.73,422.50 245.67,422.50 242.80,419.63 242.80,415.57 245.67,412.70 249.73,412.70 252.60,415.57" fill="none" stroke="#00f" stroke-width="1.3" stroke-linejoin="round"/>
<polygon points="267.70,416.83 264.83,419.70 260.77,419.70 257.90,416.83 257.90,412.77 260.77,409.90 264.83,409.90 267.70,412.77" fill="none" stroke="#00f" stroke-width="1.3" stroke-linejoin="round"/>
<polygon points="290.60,386.73 287.73,389.60 283.67,389.60 280.80,386.73 280.80,382.67 283.67,379.80 287.73,379.80 290.60,382.67" fill="none" stroke="#00f" stroke-width="1.3" stroke-linejoin="round"/>
<polygon points="306.70,411.43 303.83,414.30 299.77,414.30 296.90,411.43 296.90,407.37 299.77,404.50 303.83,404.50 306.70,407.37" fill="none" stroke="#00f" stroke-width="1.3" stroke-linejoin="round"/>
<polygon points="320.30,419.13 317.43,422.00 313.37,422.00 310.50,419.13 310.50,415.07 313.37,412.20 317.43,412.20 320.30,415.07" fill="none" stroke="#00f" stroke-width="1.3" stroke-linejoin="round"/>
<polygon points="330.80,429.03 327.93,431.90 323.87,431.90 321.00,429.03 321.00,424.97 323.87,422.10 327.93,422.10 330.80,424.97" fill="none" stroke="#00f" stroke-width="1.3" stroke-linejoin="round"/>
<polygon points="348.60,404.53 345.73,407.40 341.67,407.40 338.80,404.53 338.80,400.47 341.67,397.60 345.73,397.60 348.60,400.47" fill="none" stroke="#00f" stroke-width="1.3" stroke-linejoin="round"/>
<polygon points="372.00,389.13 369.13,392.00 365.07,392.00 362.20,389.13 362.20,385.07 365.07,382.20 369.13,382.20 372.00,385.07" fill="none" stroke="#00f" stroke-width="1.3" stroke-linejoin="round"/>
<polygon points="119.30,397.23 116.43,400.10 112.37,400.10 109.50,397.23 109.50,393.17 112.37,390.30 116.43,390.30 119.30,393.17" fill="none" stroke="#0f0" stroke-width="1.3" stroke-linejoin="round"/>
<polygon points="132.80,417.63 129.93,420.50 125.87,420.50 123.00,417.63 123.00,413.57 125.87,410.70 129.93,410.70 132.80,413.57" fill="none" stroke="#0f0" stroke-width="1.3" stroke-linejoin="round"/>
<polygon points="157.10,386.93 154.23,389.80 150.17,389.80 147.30,386.93 147.30,382.87 150.17,380.00 154.23,380.00 157.10,382.87" fill="none" stroke="#0f0" stroke-width="1.3" stroke-linejoin="round"/>
<polygon points="169.30,421.93 166.43,424.80 162.37,424.80 159.50,421.93 159.50,417.87 162.37,415.00 166.43,415.00 169.30,417.87" fill="none" stroke="#0f0" stroke-width="1.3" stroke-linejoin="round"/>
<polygon points="189.30,400.23 186.43,403.10 182.37,403.10 179.50,400.23 179.50,396.17 182.37,393.30 186.43,393.30 189.30,396.17" fill="none" stroke="#0f0" stroke-width="1.3" stroke-linejoin="round"/>
<polygon points="210.50,393.43 207.63,396.30 203.57,396.30 200.70,393.43 200.70,389.37 203.57,386.50 207.63,386.50 210.50,389.37" fill="none" stroke="#0f0" stroke-width="1.3" stroke-linejoin="round"/>
<polygon points="232.00,394.23 229.13,397.10 225.07,397.10 222.20,394.23 222.20,390.17 225.07,387.30 229.13,387.30 232.00,390.17" fill="none" stroke="#0f0" stroke-width="1.3" stroke-linejoin="round"/>
<polygon points="255.60,387.63 252.73,390.50 248.67,390.50 245.80,387.63 245.80,383.57 248.67,380.70 252.73,380.70 255.60,383.57" fill="none" stroke="#0f0" stroke-width="1.3" stroke-linejoin="round"/>
<polygon points="267.20,426.43 264.33,429.30 260.27,429.30 257.40,426.43 257.40,422.37 260.27,419.50 264.33,419.50 267.20,422.37" fill="none" stroke="#0f0" stroke-width="1.3" stroke-linejoin="round"/>
<polygon points="282.00,415.33 279.13,418.20 275.07,418.20 272.20,415.33 272.20,411.27 275.07,408.40 279.13,408.40 282.00,411.27" fill="none" stroke="#0f0" stroke-width="1.3" stroke-linejoin="round"/>
<polygon points="294.10,422.33 291.23,425.20 287.17,425.20 284.30,422.33 284.30,418.27 287.17,415.40 291.23,415.40 294.10,418.27" fill="none" stroke="#0f0" stroke-width="1.3" stroke-linejoin="round"/>
<polygon points="323.70,368.43 320.83,371.30 316.77,371.30 313.90,368.43 313.90,364.37 316.77,361.50 320.83,361.50 323.70,364.37" fill="none" stroke="#0f0" stroke-width="1.3" stroke-linejoin="round"/>
<polygon points="337.40,417.03 334.53,419.90 330.47,419.90 327.60,417.03 327.60,412.97 330.47,410.10 334.53,410.10 337.40,412.97" fill="none" stroke="#0f0" stroke-width="1.3" stroke-linejoin="round"/>
<polygon points="363.90,379.43 361.03,382.30 356.97,382.30 354.10,379.43 354.10,375.37 356.97,372.50 361.03,372.50 363.90,375.37" fill="none" stroke="#0f0" stroke-width="1.3" stroke-linejoin="round"/>
<polygon points="375.50,424.33 372.63,427.20 368.57,427.20 365.70,424.33 365.70,420.27 368.57,417.40 372.63,417.40 375.50,420.27" fill="none" stroke="#0f0" stroke-width="1.3" stroke-linejoin="round"/>
<polygon points="400.50,383.73 397.63,386.60 393.57,386.60 390.70,383.73 390.70,379.67 393.57,376.80 397.63,376.80 400.50,379.67" fill="none" stroke="#0f0" stroke-width="1.3" stroke-linejoin="round"/>
<polygon points="431.50,364.63 428.63,367.50 424.57,367.50 421.70,364.63 421.70,360.57 424.57,357.70 428.63,357.70 431.50,360.57" fill="none" stroke="#0f0" stroke-width="1.3" stroke-linejoin="round"/>
<polygon points="460.20,372.43 457.33,375.30 453.27,375.30 450.40,372.43 450.40,368.37 453.27,365.50 457.33,365.50 460.20,368.37" fill="none" stroke="#0f0" stroke-width="1.3" stroke-linejoin="round"/>
<polygon points="144.80,544.83 141.93,547.70 137.87,547.70 135.00,544.83 135.00,540.77 137.87,537.90 141.93,537.90 144.80,540.77" fill="#000" stroke="#000" stroke-width="1.3" stroke-linejoin="round"/>
<polygon points="154.70,606.73 151.83,609.60 147.77,609.60 144.90,606.73 144.90,602.67 147.77,599.80 151.83,599.80 154.70,602.67" fill="#000" stroke="#000" stroke-width="1.3" stroke-linejoin="round"/>
<polygon points="181.80,573.83 178.93,576.70 174.87,576.70 172.00,573.83 172.00,569.77 174.87,566.90 178.93,566.90 181.80,569.77" fill="#000" stroke="#000" stroke-width="1.3" stroke-linejoin="round"/>
<polygon points="203.70,583.93 200.83,586.80 196.77,586.80 193.90,583.93 193.90,579.87 196.77,577.00 200.83,577.00 203.70,579.87" fill="#000" stroke="#000" stroke-width="1.3" stroke-linejoin="round"/>
<polygon points="226.40,581.83 223.53,584.70 219.47,584.70 216.60,581.83 216.60,577.77 219.47,574.90 223.53,574.90 226.40,577.77" fill="#000" stroke="#000" stroke-width="1.3" stroke-linejoin="round"/>
<polygon points="245.10,589.33 242.23,592.20 238.17,592.20 235.30,589.33 235.30,585.27 238.17,582.40 242.23,582.40 245.10,585.27" fill="#000" stroke="#000" stroke-width="1.3" stroke-linejoin="round"/>
<polygon points="256.10,603.93 253.23,606.80 249.17,606.80 246.30,603.93 246.30,599.87 249.17,597.00 253.23,597.00 256.10,599.87" fill="#000" stroke="#000" stroke-width="1.3" stroke-linejoin="round"/>
<polygon points="266.20,607.13 263.33,610.00 259.27,610.00 256.40,607.13 256.40,603.07 259.27,600.20 263.33,600.20 266.20,603.07" fill="#000" stroke="#000" stroke-width="1.3" stroke-linejoin="round"/>
<polygon points="278.40,601.33 275.53,604.20 271.47,604.20 268.60,601.33 268.60,597.27 271.47,594.40 275.53,594.40 278.40,597.27" fill="#000" stroke="#000" stroke-width="1.3" stroke-linejoin="round"/>
<polygon points="292.40,600.73 289.53,603.60 285.47,603.60 282.60,600.73 282.60,596.67 285.47,593.80 289.53,593.80 292.40,596.67" fill="#000" stroke="#000" stroke-width="1.3" stroke-linejoin="round"/>
<polygon points="308.00,593.83 305.13,596.70 301.07,596.70 298.20,593.83 298.20,589.77 301.07,586.90 305.13,586.90 308.00,589.77" fill="#000" stroke="#000" stroke-width="1.3" stroke-linejoin="round"/>
<polygon points="322.80,597.43 319.93,600.30 315.87,600.30 313.00,597.43 313.00,593.37 315.87,590.50 319.93,590.50 322.80,593.37" fill="#000" stroke="#000" stroke-width="1.3" stroke-linejoin="round"/>
<polygon points="364.50,546.53 361.63,549.40 357.57,549.40 354.70,546.53 354.70,542.47 357.57,539.60 361.63,539.60 364.50,542.47" fill="#000" stroke="#000" stroke-width="1.3" stroke-linejoin="round"/>
<polygon points="404.30,550.33 401.43,553.20 397.37,553.20 394.50,550.33 394.50,546.27 397.37,543.40 401.43,543.40 404.30,546.27" fill="#000" stroke="#000" stroke-width="1.3" stroke-linejoin="round"/>
<polygon points="436.40,579.73 433.53,582.60 429.47,582.60 426.60,579.73 426.60,575.67 429.47,572.80 433.53,572.80 436.40,575.67" fill="#000" stroke="#000" stroke-width="1.3" stroke-linejoin="round"/>
<polygon points="412.10,610.53 409.23,613.40 405.17,613.40 402.30,610.53 402.30,606.47 405.17,603.60 409.23,603.60 412.10,606.47" fill="#000" stroke="#000" stroke-width="1.3" stroke-linejoin="round"/>
<polygon points="113.90,602.43 111.03,605.30 106.97,605.30 104.10,602.43 104.10,598.37 106.97,595.50 111.03,595.50 113.90,598.37" fill="none" stroke="#f00" stroke-width="1.3" stroke-linejoin="round"/>
<polygon points="144.60,567.43 141.73,570.30 137.67,570.30 134.80,567.43 134.80,563.37 137.67,560.50 141.73,560.50 144.60,563.37" fill="none" stroke="#f00" stroke-width="1.3" stroke-linejoin="round"/>
<polygon points="165.20,586.33 162.33,589.20 158.27,589.20 155.40,586.33 155.40,582.27 158.27,579.40 162.33,579.40 165.20,582.27" fill="none" stroke="#f00" stroke-width="1.3" stroke-linejoin="round"/>
<polygon points="176.00,606.03 173.13,608.90 169.07,608.90 166.20,606.03 166.20,601.97 169.07,599.10 173.13,599.10 176.00,601.97" fill="none" stroke="#f00" stroke-width="1.3" stroke-linejoin="round"/>
<polygon points="207.10,565.93 204.23,568.80 200.17,568.80 197.30,565.93 197.30,561.87 200.17,559.00 204.23,559.00 207.10,561.87" fill="none" stroke="#f00" stroke-width="1.3" stroke-linejoin="round"/>
<polygon points="216.30,607.13 213.43,610.00 209.37,610.00 206.50,607.13 206.50,603.07 209.37,600.20 213.43,600.20 216.30,603.07" fill="none" stroke="#f00" stroke-width="1.3" stroke-linejoin="round"/>
<polygon points="235.00,591.03 232.13,593.90 228.07,593.90 225.20,591.03 225.20,586.97 228.07,584.10 232.13,584.10 235.00,586.97" fill="none" stroke="#f00" stroke-width="1.3" stroke-linejoin="round"/>
<polygon points="256.90,583.53 254.03,586.40 249.97,586.40 247.10,583.53 247.10,579.47 249.97,576.60 254.03,576.60 256.90,579.47" fill="none" stroke="#f00" stroke-width="1.3" stroke-linejoin="round"/>
<polygon points="278.00,583.73 275.13,586.60 271.07,586.60 268.20,583.73 268.20,579.67 271.07,576.80 275.13,576.80 278.00,579.67" fill="none" stroke="#f00" stroke-width="1.3" stroke-linejoin="round"/>
<polygon points="311.30,563.93 308.43,566.80 304.37,566.80 301.50,563.93 301.50,559.87 304.37,557.00 308.43,557.00 311.30,559.87" fill="none" stroke="#f00" stroke-width="1.3" stroke-linejoin="round"/>
<polygon points="322.80,602.83 319.93,605.70 315.87,605.70 313.00,602.83 313.00,598.77 315.87,595.90 319.93,595.90 322.80,598.77" fill="none" stroke="#f00" stroke-width="1.3" stroke-linejoin="round"/>
<polygon points="338.30,596.23 335.43,599.10 331.37,599.10 328.50,596.23 328.50,592.17 331.37,589.30 335.43,589.30 338.30,592.17" fill="none" stroke="#f00" stroke-width="1.3" stroke-linejoin="round"/>
<polygon points="367.90,569.13 365.03,572.00 360.97,572.00 358.10,569.13 358.10,565.07 360.97,562.20 365.03,562.20 367.90,565.07" fill="none" stroke="#f00" stroke-width="1.3" stroke-linejoin="round"/>
<polygon points="386.00,592.03 383.13,594.90 379.07,594.90 376.20,592.03 376.20,587.97 379.07,585.10 383.13,585.10 386.00,587.97" fill="none" stroke="#f00" stroke-width="1.3" stroke-linejoin="round"/>
<polygon points="415.70,568.43 412.83,571.30 408.77,571.30 405.90,568.43 405.90,564.37 408.77,561.50 412.83,561.50 415.70,564.37" fill="none" stroke="#f00" stroke-width="1.3" stroke-linejoin="round"/>
<polygon points="111.30,596.43 108.43,599.30 104.37,599.30 101.50,596.43 101.50,592.37 104.37,589.50 108.43,589.50 111.30,592.37" fill="none" stroke="#00f" stroke-width="1.3" stroke-linejoin="round"/>
<polygon points="126.20,598.13 123.33,601.00 119.27,601.00 116.40,598.13 116.40,594.07 119.27,591.20 123.33,591.20 126.20,594.07" fill="none" stroke="#00f" stroke-width="1.3" stroke-linejoin="round"/>
<polygon points="142.30,594.23 139.43,597.10 135.37,597.10 132.50,594.23 132.50,590.17 135.37,587.30 139.43,587.30 142.30,590.17" fill="none" stroke="#00f" stroke-width="1.3" stroke-linejoin="round"/>
<polygon points="155.40,600.03 152.53,602.90 148.47,602.90 145.60,600.03 145.60,595.97 148.47,593.10 152.53,593.10 155.40,595.97" fill="none" stroke="#00f" stroke-width="1.3" stroke-linejoin="round"/>
<polygon points="173.00,591.43 170.13,594.30 166.07,594.30 163.20,591.43 163.20,587.37 166.07,584.50 170.13,584.50 173.00,587.37" fill="none" stroke="#00f" stroke-width="1.3" stroke-linejoin="round"/>
<polygon points="191.00,591.63 188.13,594.50 184.07,594.50 181.20,591.63 181.20,587.57 184.07,584.70 188.13,584.70 191.00,587.57" fill="none" stroke="#00f" stroke-width="1.3" stroke-linejoin="round"/>
<polygon points="208.20,592.73 205.33,595.60 201.27,595.60 198.40,592.73 198.40,588.67 201.27,585.80 205.33,585.80 208.20,588.67" fill="none" stroke="#00f" stroke-width="1.3" stroke-linejoin="round"/>
<polygon points="227.10,589.13 224.23,592.00 220.17,592.00 217.30,589.13 217.30,585.07 220.17,582.20 224.23,582.20 227.10,585.07" fill="none" stroke="#00f" stroke-width="1.3" stroke-linejoin="round"/>
<polygon points="250.30,581.33 247.43,584.20 243.37,584.20 240.50,581.33 240.50,577.27 243.37,574.40 247.43,574.40 250.30,577.27" fill="none" stroke="#00f" stroke-width="1.3" stroke-linejoin="round"/>
<polygon points="264.00,598.73 261.13,601.60 257.07,601.60 254.20,598.73 254.20,594.67 257.07,591.80 261.13,591.80 264.00,594.67" fill="none" stroke="#00f" stroke-width="1.3" stroke-linejoin="round"/>
<polygon points="281.60,592.13 278.73,595.00 274.67,595.00 271.80,592.13 271.80,588.07 274.67,585.20 278.73,585.20 281.60,588.07" fill="none" stroke="#00f" stroke-width="1.3" stroke-linejoin="round"/>
<polygon points="293.90,601.33 291.03,604.20 286.97,604.20 284.10,601.33 284.10,597.27 286.97,594.40 291.03,594.40 293.90,597.27" fill="none" stroke="#00f" stroke-width="1.3" stroke-linejoin="round"/>
<polygon points="327.10,562.93 324.23,565.80 320.17,565.80 317.30,562.93 317.30,558.87 320.17,556.00 324.23,556.00 327.10,558.87" fill="none" stroke="#00f" stroke-width="1.3" stroke-linejoin="round"/>
<polygon points="356.30,570.43 353.43,573.30 349.37,573.30 346.50,570.43 346.50,566.37 349.37,563.50 353.43,563.50 356.30,566.37" fill="none" stroke="#00f" stroke-width="1.3" stroke-linejoin="round"/>
<polygon points="367.90,603.23 365.03,606.10 360.97,606.10 358.10,603.23 358.10,599.17 360.97,596.30 365.03,596.30 367.90,599.17" fill="none" stroke="#00f" stroke-width="1.3" stroke-linejoin="round"/>
<polygon points="387.10,587.13 384.23,590.00 380.17,590.00 377.30,587.13 377.30,583.07 380.17,580.20 384.23,580.20 387.10,583.07" fill="none" stroke="#00f" stroke-width="1.3" stroke-linejoin="round"/>
<polygon points="109.40,599.23 106.53,602.10 102.47,602.10 99.60,599.23 99.60,595.17 102.47,592.30 106.53,592.30 109.40,595.17" fill="none" stroke="#0f0" stroke-width="1.3" stroke-linejoin="round"/>
<polygon points="120.80,603.93 117.93,606.80 113.87,606.80 111.00,603.93 111.00,599.87 113.87,597.00 117.93,597.00 120.80,599.87" fill="none" stroke="#0f0" stroke-width="1.3" stroke-linejoin="round"/>
<polygon points="133.50,601.33 130.63,604.20 126.57,604.20 123.70,601.33 123.70,597.27 126.57,594.40 130.63,594.40 133.50,597.27" fill="none" stroke="#0f0" stroke-width="1.3" stroke-linejoin="round"/>
<polygon points="160.30,573.83 157.43,576.70 153.37,576.70 150.50,573.83 150.50,569.77 153.37,566.90 157.43,566.90 160.30,569.77" fill="none" stroke="#0f0" stroke-width="1.3" stroke-linejoin="round"/>
<polygon points="195.30,559.93 192.43,562.80 188.37,562.80 185.50,559.93 185.50,555.87 188.37,553.00 192.43,553.00 195.30,555.87" fill="none" stroke="#0f0" stroke-width="1.3" stroke-linejoin="round"/>
<polygon points="215.30,587.33 212.43,590.20 208.37,590.20 205.50,587.33 205.50,583.27 208.37,580.40 212.43,580.40 215.30,583.27" fill="none" stroke="#0f0" stroke-width="1.3" stroke-linejoin="round"/>
<polygon points="229.40,598.13 226.53,601.00 222.47,601.00 219.60,598.13 219.60,594.07 222.47,591.20 226.53,591.20 229.40,594.07" fill="none" stroke="#0f0" stroke-width="1.3" stroke-linejoin="round"/>
<polygon points="275.40,538.43 272.53,541.30 268.47,541.30 265.60,538.43 265.60,534.37 268.47,531.50 272.53,531.50 275.40,534.37" fill="none" stroke="#0f0" stroke-width="1.3" stroke-linejoin="round"/>
<polygon points="291.10,596.43 288.23,599.30 284.17,599.30 281.30,596.43 281.30,592.37 284.17,589.50 288.23,589.50 291.10,592.37" fill="none" stroke="#0f0" stroke-width="1.3" stroke-linejoin="round"/>
<polygon points="320.30,570.23 317.43,573.10 313.37,573.10 310.50,570.23 310.50,566.17 313.37,563.30 317.43,563.30 320.30,566.17" fill="none" stroke="#0f0" stroke-width="1.3" stroke-linejoin="round"/>
<polygon points="334.00,598.53 331.13,601.40 327.07,601.40 324.20,598.53 324.20,594.47 327.07,591.60 331.13,591.60 334.00,594.47" fill="none" stroke="#0f0" stroke-width="1.3" stroke-linejoin="round"/>
<polygon points="364.30,568.93 361.43,571.80 357.37,571.80 354.50,568.93 354.50,564.87 357.37,562.00 361.43,562.00 364.30,564.87" fill="none" stroke="#0f0" stroke-width="1.3" stroke-linejoin="round"/>
<polygon points="388.00,580.03 385.13,582.90 381.07,582.90 378.20,580.03 378.20,575.97 381.07,573.10 385.13,573.10 388.00,575.97" fill="none" stroke="#0f0" stroke-width="1.3" stroke-linejoin="round"/>
<polygon points="445.80,517.33 442.93,520.20 438.87,520.20 436.00,517.33 436.00,513.27 438.87,510.40 442.93,510.40 445.80,513.27" fill="none" stroke="#0f0" stroke-width="1.3" stroke-linejoin="round"/>
<polygon points="460.20,598.03 457.33,600.90 453.27,600.90 450.40,598.03 450.40,593.97 453.27,591.10 457.33,591.10 460.20,593.97" fill="none" stroke="#0f0" stroke-width="1.3" stroke-linejoin="round"/>
<path d="M327.90 19.30V31.30M325.30 19.30H330.50M325.30 31.30H330.50M325.90 25.30H329.90M325.90 24.30V26.30M329.90 24.30V26.30" stroke="#000" stroke-width="0.95" fill="none"/>
<path d="M364.70 18.40V32.60M362.10 18.40H367.30M362.10 32.60H367.30M362.50 25.50H366.90M362.50 24.50V26.50M366.90 24.50V26.50" stroke="#f00" stroke-width="0.95" fill="none"/>
<path d="M383.30 191.15V195.05M380.70 191.15H385.90M380.70 195.05H385.90M381.90 193.10H384.70M381.90 191.80V194.40M384.70 191.80V194.40" stroke="#000" stroke-width="0.95" fill="none"/>
<path d="M418.10 190.00V195.80M415.50 190.00H420.70M415.50 195.80H420.70M416.70 192.90H419.50M416.70 191.60V194.20M419.50 191.60V194.20" stroke="#f00" stroke-width="0.95" fill="none"/>
<path d="M453.10 189.00V196.80M450.50 189.00H455.70M450.50 196.80H455.70M451.70 192.90H454.50M451.70 191.60V194.20M454.50 191.60V194.20" stroke="#00f" stroke-width="0.95" fill="none"/>
<path d="M355.30 514.40V522.40M352.70 514.40H357.90M352.70 522.40H357.90M353.90 518.40H356.70M353.90 517.10V519.70M356.70 517.10V519.70" stroke="#000" stroke-width="0.95" fill="none"/>
<path d="M372.90 513.10V523.30M370.30 513.10H375.50M370.30 523.30H375.50M371.50 518.20H374.30M371.50 516.90V519.50M374.30 516.90V519.50" stroke="#f00" stroke-width="0.95" fill="none"/>
<path d="M390.30 514.90V522.10M387.70 514.90H392.90M387.70 522.10H392.90M388.90 518.50H391.70M388.90 517.20V519.80M391.70 517.20V519.80" stroke="#00f" stroke-width="0.95" fill="none"/>
<path d="M407.70 514.10V522.90M405.10 514.10H410.30M405.10 522.90H410.30M406.30 518.50H409.10M406.30 517.20V519.80M409.10 517.20V519.80" stroke="#0f0" stroke-width="0.95" fill="none"/>
<text class="ser" transform="translate(87.80,32.10) scale(0.869,1)" x="-0.68 15.04 32.02" y="0" font-size="19.5" fill="#000" stroke="#000" stroke-width="0.7">NGC</text>
<text class="ser" transform="translate(140.90,32.10) scale(1.143,1)" x="-0.63 10.08 20.69" y="0" font-size="19.5" fill="#000" stroke="#000" stroke-width="0.35">895</text>
<text class="ser" transform="translate(90.20,199.00) scale(0.843,1)" x="-0.31 16.26 32.67" y="0" font-size="19.5" fill="#000" stroke="#000" stroke-width="0.7">NGC</text>
<text class="ser" transform="translate(143.00,199.00) scale(1.160,1)" x="-0.93 10.30 20.11 30.74" y="0" font-size="19.5" fill="#000" stroke="#000" stroke-width="0.35">5474</text>
<text class="ser" transform="translate(90.20,361.30) scale(0.843,1)" x="-0.31 16.26 32.67" y="0" font-size="19.5" fill="#000" stroke="#000" stroke-width="0.7">NGC</text>
<text class="ser" transform="translate(143.00,361.30) scale(1.115,1)" x="-0.68 10.42 21.45 31.88" y="0" font-size="19.5" fill="#000" stroke="#000" stroke-width="0.35">6946</text>
<text class="ser" transform="translate(81.80,524.70) scale(0.869,1)" x="-0.68 15.04 32.02" y="0" font-size="19.5" fill="#000" stroke="#000" stroke-width="0.7">NGC</text>
<text class="ser" transform="translate(134.90,524.70) scale(1.088,1)" x="-0.57 10.79 22.09 32.78 43.19 50.77 58.72 71.91" y="0" font-size="19.5" fill="#000" stroke="#000" stroke-width="0.4">6946(IR)</text>
<text class="ser" transform="translate(239.80,30.50) scale(1.068,1)" x="-0.46 8.63" y="0" font-size="15.6" fill="#000" stroke="#000" stroke-width="0.4">S1</text>
<text class="ser" transform="translate(276.30,30.50) scale(1.193,1)" x="-0.87 7.96" y="0" font-size="15.6" fill="#f00" stroke="#f00" stroke-width="0.4">S2</text>
<text class="ser" transform="translate(235.80,198.80) scale(1.068,1)" x="-0.46 8.63" y="0" font-size="15.6" fill="#000" stroke="#000" stroke-width="0.4">S1</text>
<text class="ser" transform="translate(270.30,198.80) scale(1.193,1)" x="-0.87 7.96" y="0" font-size="15.6" fill="#f00" stroke="#f00" stroke-width="0.4">S2</text>
<text class="ser" transform="translate(305.30,198.80) scale(1.216,1)" x="-0.93 7.70" y="0" font-size="15.6" fill="#00f" stroke="#00f" stroke-width="0.4">S3</text>
<text class="ser" transform="translate(201.30,361.10) scale(1.068,1)" x="-0.46 8.63" y="0" font-size="15.6" fill="#000" stroke="#000" stroke-width="0.4">S1</text>
<text class="ser" transform="translate(226.90,361.10) scale(1.193,1)" x="-0.87 7.96" y="0" font-size="15.6" fill="#f00" stroke="#f00" stroke-width="0.4">S2</text>
<text class="ser" transform="translate(253.00,361.10) scale(1.216,1)" x="-0.93 7.70" y="0" font-size="15.6" fill="#00f" stroke="#00f" stroke-width="0.4">S3</text>
<text class="ser" transform="translate(279.00,361.10) scale(1.128,1)" x="-0.66 8.38" y="0" font-size="15.6" fill="#0f0" stroke="#0f0" stroke-width="0.4">S4</text>
<text class="ser" transform="translate(236.10,523.40) scale(1.068,1)" x="-0.46 8.63" y="0" font-size="15.6" fill="#000" stroke="#000" stroke-width="0.4">S1</text>
<text class="ser" transform="translate(261.50,523.40) scale(1.193,1)" x="-0.87 7.96" y="0" font-size="15.6" fill="#f00" stroke="#f00" stroke-width="0.4">S2</text>
<text class="ser" transform="translate(288.00,523.40) scale(1.216,1)" x="-0.93 7.70" y="0" font-size="15.6" fill="#00f" stroke="#00f" stroke-width="0.4">S3</text>
<text class="ser" transform="translate(313.90,523.40) scale(1.128,1)" x="-0.66 8.38" y="0" font-size="15.6" fill="#0f0" stroke="#0f0" stroke-width="0.4">S4</text>
<text class="ser" transform="translate(242.40,668.00) scale(1.237,1)" x="-0.63" y="0" font-size="20.2" fill="#000" stroke="#000" stroke-width="0.3">s</text>
<text class="ser" transform="translate(265.90,668.00) scale(1.046,1)" x="-1.08 7.65 19.69 30.81 41.97" y="0" font-size="20.2" fill="#000" stroke="#000" stroke-width="0.5">(kpc)</text>
<text class="ser" transform="translate(16.4,347) rotate(-90) translate(0.00,0.00) scale(0.970,1)" x="-0.32" y="0" font-size="20.2" fill="#000" stroke="#000" stroke-width="0.5">l</text>
<text class="ser" transform="translate(16.4,347) rotate(-90) translate(20.40,0.00) scale(1.094,1)" x="-0.96 6.95 19.23 30.79 41.00" y="0" font-size="20.2" fill="#000" stroke="#000" stroke-width="0.5">(kpc)</text>
</svg>
</body></html>
